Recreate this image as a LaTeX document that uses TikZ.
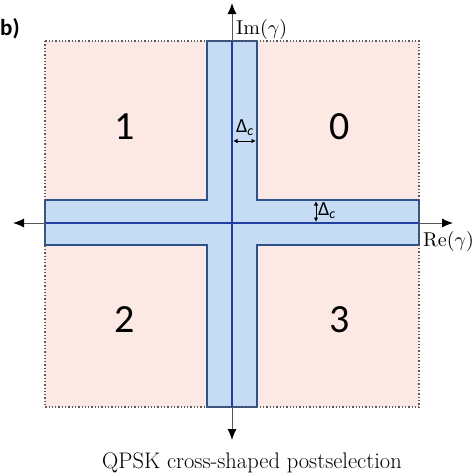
\RequirePackage{fix-cm}
\documentclass[tikz,border=0pt]{standalone}
\usepackage{fontspec}
\newfontfamily\carlito{Carlito}
\usetikzlibrary{arrows.meta}
\definecolor{pinkbg}{RGB}{253,233,227}
\definecolor{bandfill}{RGB}{197,220,244}
\definecolor{bandedge}{RGB}{47,82,143}
\definecolor{centreblue}{RGB}{35,62,160}
\definecolor{axisgray}{RGB}{85,85,85}
\definecolor{dotgray}{RGB}{90,90,90}
\begin{document}
\begin{tikzpicture}[x=1pt,y=-1pt,
  axis/.style={draw=axisgray, line width=1pt, {Latex[length=11pt,width=9pt,color=black]}-{Latex[length=11pt,width=9pt,color=black]}},
  band/.style={fill=bandfill, draw=bandedge, line width=1.1pt, line join=miter},
  centre/.style={draw=centreblue, line width=1.6pt},
  region/.style={fill=pinkbg},
  border/.style={draw=dotgray, dotted, line width=1.3pt},
  dim/.style={draw=black, line width=0.9pt, {Latex[length=4.5pt,width=4.5pt]}-{Latex[length=4.5pt,width=4.5pt]}},
  quad/.style={font=\carlito\fontsize{40}{44}\selectfont, inner sep=0pt},
  axlabel/.style={inner sep=0pt},
  dlabel/.style={font=\carlito\fontsize{20}{22}\selectfont, inner sep=0pt}
]
\useasboundingbox (0,0) rectangle (474,474);
% coordinates
\coordinate (sqtl) at (45,41);
\coordinate (sqbr) at (419,407);
\coordinate (xl) at (13,223);
\coordinate (xr) at (453,223);
\coordinate (yt) at (232,3);
\coordinate (yb) at (232,440);
\coordinate (vct) at (232,41);
\coordinate (vcb) at (232,407);
\coordinate (hcl) at (45,223);
\coordinate (hcr) at (419,223);
\coordinate (d1a) at (233,141);
\coordinate (d1b) at (256,141);
\coordinate (d2a) at (316,201);
\coordinate (d2b) at (316,222);

% background region
\fill[region] (sqtl) rectangle (sqbr);

% axes
\draw[axis] (xl) -- (xr);
\draw[axis] (yb) -- (yt);

% cross band
\path[band] (207,41) -- (257,41) -- (257,200) -- (419,200) -- (419,245)
  -- (257,245) -- (257,407) -- (207,407) -- (207,245) -- (45,245)
  -- (45,200) -- (207,200) -- cycle;

% centre lines
\draw[centre] (vct) -- (vcb);
\draw[centre] (hcl) -- (hcr);

% dotted border
\draw[border] (sqtl) rectangle (sqbr);

% quadrant labels
\node[quad] (q1) at (125,127) {1};
\node[quad] (q0) at (340,127) {0};
\node[quad] (q2) at (125,320) {2};
\node[quad] (q3) at (340,320) {3};

% axis labels
\node[axlabel, anchor=west] (im) at (236,29) {\scalebox{2.0}{$\mathrm{Im}(\gamma)$}};
\node[axlabel, anchor=west] (re) at (423,241) {\scalebox{2.0}{$\mathrm{Re}(\gamma)$}};

% Delta_c markers
\draw[dim] (d1a) -- (d1b);
\node[dlabel] (dc1) at (245,128) {Δ\textsubscript{\itshape c}};
\draw[dim] (d2a) -- (d2b);
\node[dlabel, anchor=west] (dc2) at (318,211) {Δ\textsubscript{\itshape c}};

% panel label
\node[font=\carlito\bfseries\fontsize{23}{26}\selectfont, anchor=west, inner sep=0pt] (panel) at (0,29) {b)};

% caption
\node[font=\fontsize{22.5}{25}\selectfont, anchor=base, inner sep=0pt] (cap) at (252,468) {QPSK cross-shaped postselection};
\end{tikzpicture}
\end{document}
